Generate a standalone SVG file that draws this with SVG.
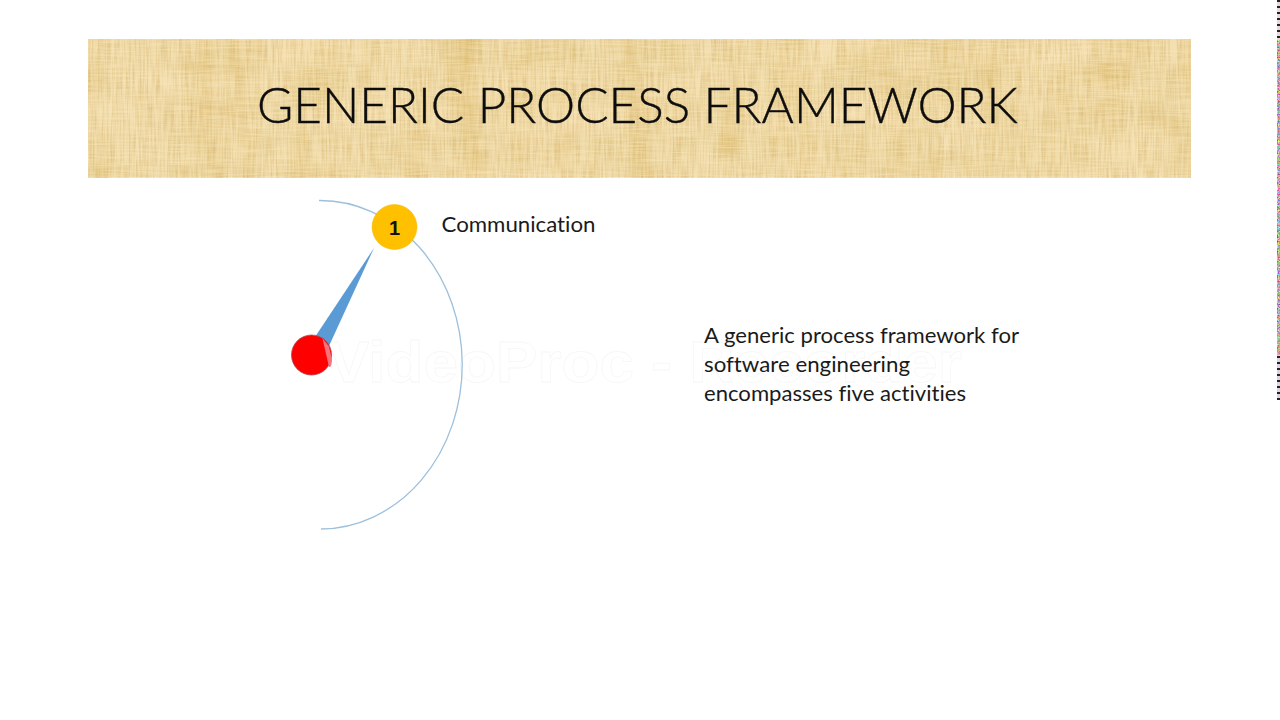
<svg xmlns="http://www.w3.org/2000/svg" width="1280" height="720" viewBox="0 0 1280 720">
<style>
.body{font-family:"Lato","Open Sans","Liberation Sans",sans-serif;font-size:22px;fill:#1a1a1a;font-variant-ligatures:none}
.mark{font-family:"Liberation Sans",sans-serif;font-size:58px;font-weight:700;fill:#fff;stroke:#f7f7f7;stroke-width:0.800}
</style>
<defs>
<filter id="papyrus" x="0" y="0" width="100%" height="100%" color-interpolation-filters="sRGB">
<feTurbulence type="fractalNoise" baseFrequency="0.035 0.006" numOctaves="3" seed="7" result="v"/>
<feColorMatrix in="v" type="matrix" values="0 0 0 0 0.87  0 0 0 0 0.73  0 0 0 0 0.41  1.5 0 0 0 -0.62" result="vs"/>
<feTurbulence type="fractalNoise" baseFrequency="0.012 0.03" numOctaves="2" seed="3" result="h"/>
<feColorMatrix in="h" type="matrix" values="0 0 0 0 0.97  0 0 0 0 0.89  0 0 0 0 0.72  1.6 0 0 0 -0.5" result="hs"/>
<feTurbulence type="fractalNoise" baseFrequency="0.55 0.03" numOctaves="2" seed="11" result="f"/>
<feColorMatrix in="f" type="matrix" values="0 0 0 0 0.83  0 0 0 0 0.69  0 0 0 0 0.4  1.2 0 0 0 -0.42" result="fs"/>
<feTurbulence type="fractalNoise" baseFrequency="0.03 0.55" numOctaves="2" seed="21" result="g"/>
<feColorMatrix in="g" type="matrix" values="0 0 0 0 0.97  0 0 0 0 0.9  0 0 0 0 0.73  1.2 0 0 0 -0.4" result="gs"/>
<feMerge><feMergeNode in="SourceGraphic"/><feMergeNode in="vs"/><feMergeNode in="hs"/><feMergeNode in="fs"/><feMergeNode in="gs"/></feMerge>
</filter>
<filter id="noise" x="0" y="0" width="100%" height="100%" color-interpolation-filters="sRGB">
<feTurbulence type="fractalNoise" baseFrequency="0.7" numOctaves="1" seed="5"/>
<feColorMatrix type="matrix" values="2 0 0 0 -0.4  0 2 0 0 -0.5  0 0 2 0 -0.5  0 0 0 0 0.7"/>
</filter>
</defs>
<rect width="1280" height="720" fill="#fff"/>
<g id="banner">
<rect x="88" y="39" width="1103" height="138.500" fill="#eedaa8" filter="url(#papyrus)"/>
<text x="637.500" y="123" text-anchor="middle" textLength="761" lengthAdjust="spacingAndGlyphs" font-family="Lato,'Open Sans',sans-serif" font-weight="300" font-size="50" fill="#0d0d0d" stroke="#0d0d0d" stroke-width="0.400">GENERIC PROCESS FRAMEWORK</text>
</g>
<g id="edge-noise">
<rect x="1277" y="40" width="3" height="315" filter="url(#noise)"/>
<rect x="1277" y="0" width="3" height="40" fill="#e8d8e0"/>
<rect x="1277" y="355" width="3" height="45" fill="#dcd3e6"/>
<path d="M1278.500 0V40M1278.500 356V400" fill="none" stroke="#222" stroke-width="3" stroke-dasharray="2 4"/>
</g>
<g id="watermark"><text class="mark" x="328" y="382" textLength="634" lengthAdjust="spacingAndGlyphs">VideoProc - Recorder</text></g>
<g id="connectors">
<path d="M319 200.500A142 164 0 0 1 321 529" fill="none" stroke="#9dc0dc" stroke-width="1.300"/>
</g>
<g id="needle">
<path d="M374 248L315 337L329 346Z" fill="#5b9bd5"/>
<circle cx="311.500" cy="355" r="20" fill="#fe0000" stroke="#b04a55" stroke-width="0.800"/>
<path d="M322.500 338.500L329 346.500L332 360Q331.500 368 329 367Z" fill="#f8727c"/>
</g>
<g id="node-1">
<circle cx="394.500" cy="227" r="22.500" fill="#ffc000" stroke="#f7b500" stroke-width="0.500"/>
<text x="394.500" y="234.500" text-anchor="middle" font-family="'Liberation Sans',sans-serif" font-weight="700" font-size="20" fill="#111">1</text>
</g>
<g id="label-1"><text class="body" x="441.500" y="232" textLength="154" lengthAdjust="spacingAndGlyphs">Communication</text></g>
<g id="description">
<text class="body" x="704" y="343" textLength="315" lengthAdjust="spacingAndGlyphs">A generic process framework for</text>
<text class="body" x="704" y="372" textLength="206" lengthAdjust="spacingAndGlyphs">software engineering</text>
<text class="body" x="704" y="401" textLength="262" lengthAdjust="spacingAndGlyphs">encompasses five activities</text>
</g>
</svg>
